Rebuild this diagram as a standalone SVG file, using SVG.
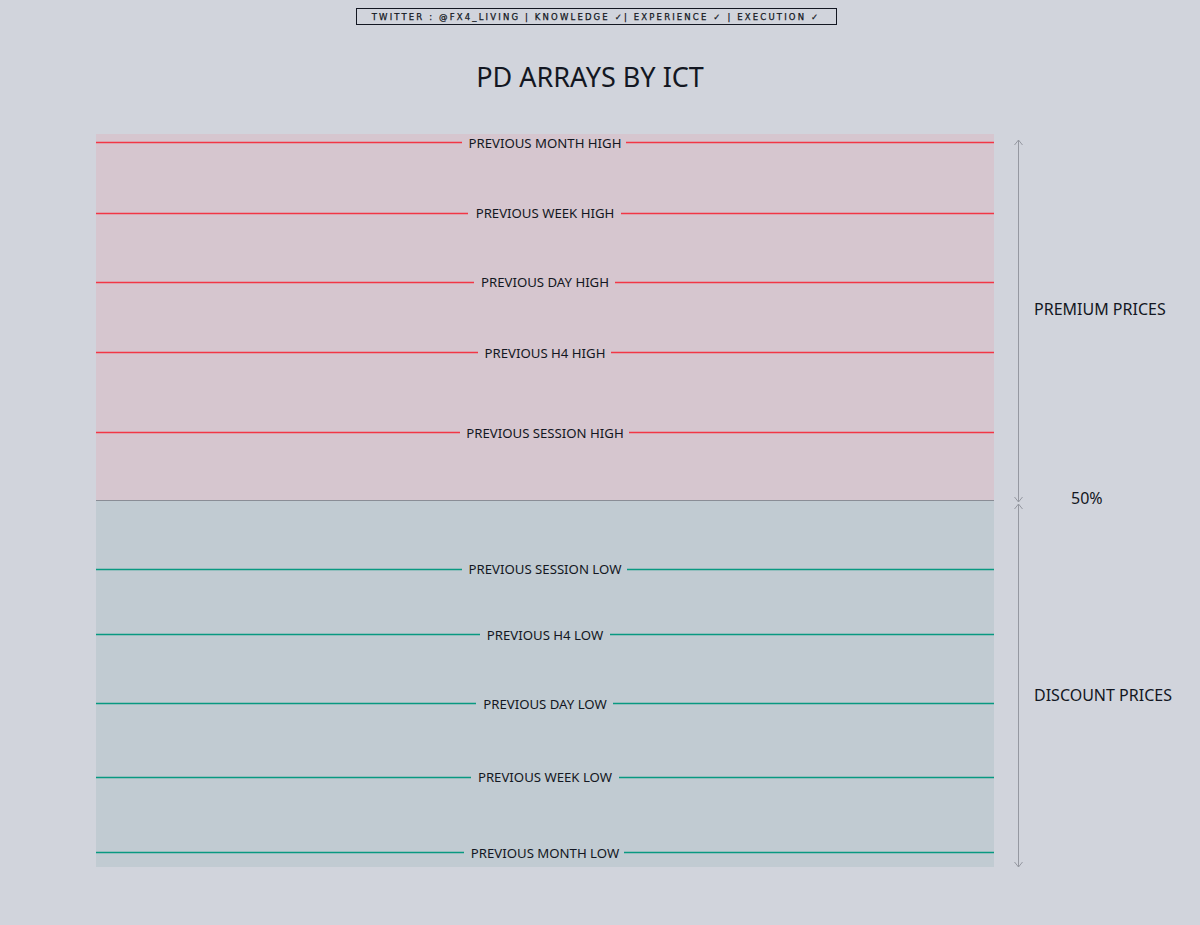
<svg xmlns="http://www.w3.org/2000/svg" width="1200" height="925" viewBox="0 0 1200 925">
<style>
.lbl{font-family:"Noto Sans","DejaVu Sans",sans-serif;font-size:13.2px;fill:#131722;text-anchor:middle}
.side{font-family:"Noto Sans","DejaVu Sans",sans-serif;font-size:16px;fill:#131722}
.hi{stroke:#f23645;stroke-width:1.5}
.lo{stroke:#089981;stroke-width:1.5}
.arr{stroke:#9598a1;stroke-width:1;fill:none}
</style>
<defs>
<marker id="ah" viewBox="0 0 10 10" refX="9" refY="5" markerWidth="10" markerHeight="10" orient="auto-start-reverse" markerUnits="userSpaceOnUse">
<path d="M4,1 L9,5 L4,9" fill="none" stroke="#9598a1" stroke-width="1"/>
</marker>
</defs>
<rect width="1200" height="925" fill="#d1d4dc"/>
<g id="header">
<rect x="356.5" y="8.5" width="480" height="16" fill="#d1d4dc" stroke="#131722" stroke-width="1"/>
<text x="596" y="19.5" font-family="'DejaVu Sans',sans-serif" font-size="8.5" fill="#131722" stroke="#131722" stroke-width="0.25" text-anchor="middle" letter-spacing="2.15">TWITTER : @FX4_LIVING | KNOWLEDGE ✓| EXPERIENCE ✓ | EXECUTION ✓</text>
</g>
<g id="title">
<text x="590" y="87" font-family="'Noto Sans','DejaVu Sans',sans-serif" font-size="27" fill="#131722" text-anchor="middle">PD ARRAYS BY ICT</text>
</g>
<g id="premium-zone">
<rect x="96" y="134" width="898" height="366" fill="#d6c6cf"/>
</g>
<g id="discount-zone">
<rect x="96" y="500" width="898" height="367" fill="#c1cbd2"/>
<line x1="96" y1="500.5" x2="994" y2="500.5" stroke="#8a8d96" stroke-width="1"/>
</g>
<g id="connectors">
<line class="arr" x1="1018.5" y1="140" x2="1018.5" y2="502" marker-start="url(#ah)" marker-end="url(#ah)"/>
<line class="arr" x1="1018.5" y1="504" x2="1018.5" y2="867" marker-start="url(#ah)" marker-end="url(#ah)"/>
</g>
<g id="prev-month-high">
<line class="hi" x1="96" y1="142.5" x2="462" y2="142.5"/><line class="hi" x1="626" y1="142.5" x2="994" y2="142.5"/>
<text class="lbl" x="545" y="147.5">PREVIOUS MONTH HIGH</text>
</g>
<g id="prev-week-high">
<line class="hi" x1="96" y1="213.5" x2="468" y2="213.5"/><line class="hi" x1="621" y1="213.5" x2="994" y2="213.5"/>
<text class="lbl" x="545" y="218">PREVIOUS WEEK HIGH</text>
</g>
<g id="prev-day-high">
<line class="hi" x1="96" y1="282.5" x2="474" y2="282.5"/><line class="hi" x1="615" y1="282.5" x2="994" y2="282.5"/>
<text class="lbl" x="545" y="287">PREVIOUS DAY HIGH</text>
</g>
<g id="prev-h4-high">
<line class="hi" x1="96" y1="352.5" x2="478" y2="352.5"/><line class="hi" x1="611" y1="352.5" x2="994" y2="352.5"/>
<text class="lbl" x="545" y="357.5">PREVIOUS H4 HIGH</text>
</g>
<g id="prev-session-high">
<line class="hi" x1="96" y1="432.5" x2="460" y2="432.5"/><line class="hi" x1="629" y1="432.5" x2="994" y2="432.5"/>
<text class="lbl" x="545" y="437.5">PREVIOUS SESSION HIGH</text>
</g>
<g id="prev-session-low">
<line class="lo" x1="96" y1="569.5" x2="462" y2="569.5"/><line class="lo" x1="627" y1="569.5" x2="994" y2="569.5"/>
<text class="lbl" x="545" y="574">PREVIOUS SESSION LOW</text>
</g>
<g id="prev-h4-low">
<line class="lo" x1="96" y1="634.5" x2="480" y2="634.5"/><line class="lo" x1="610" y1="634.5" x2="994" y2="634.5"/>
<text class="lbl" x="545" y="639.5">PREVIOUS H4 LOW</text>
</g>
<g id="prev-day-low">
<line class="lo" x1="96" y1="703.5" x2="476" y2="703.5"/><line class="lo" x1="613" y1="703.5" x2="994" y2="703.5"/>
<text class="lbl" x="545" y="708.5">PREVIOUS DAY LOW</text>
</g>
<g id="prev-week-low">
<line class="lo" x1="96" y1="777.5" x2="471" y2="777.5"/><line class="lo" x1="619" y1="777.5" x2="994" y2="777.5"/>
<text class="lbl" x="545" y="782">PREVIOUS WEEK LOW</text>
</g>
<g id="prev-month-low">
<line class="lo" x1="96" y1="852.5" x2="464" y2="852.5"/><line class="lo" x1="624" y1="852.5" x2="994" y2="852.5"/>
<text class="lbl" x="545" y="857.5">PREVIOUS MONTH LOW</text>
</g>
<g id="premium-label"><text class="side" x="1034" y="315">PREMIUM PRICES</text></g>
<g id="fifty-label"><text class="side" x="1071" y="504" font-size="15">50%</text></g>
<g id="discount-label"><text class="side" x="1034" y="701" font-size="16.3">DISCOUNT PRICES</text></g>
</svg>
